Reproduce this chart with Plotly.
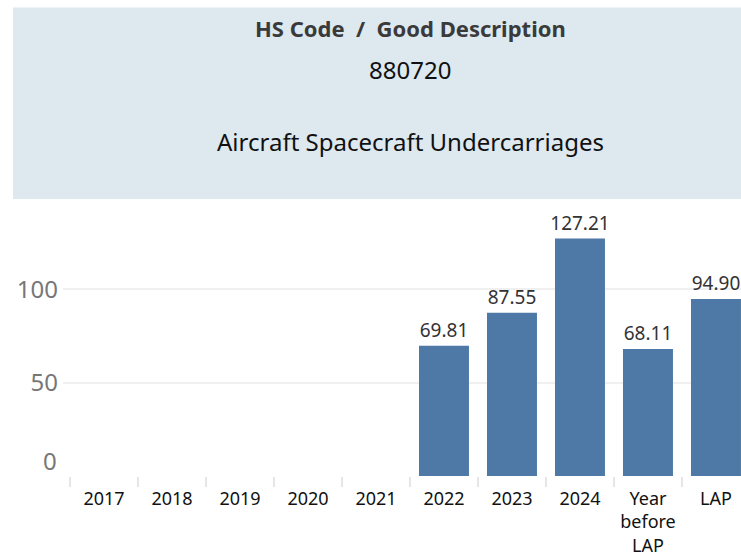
import plotly.graph_objects as go

categories = ["2017", "2018", "2019", "2020", "2021", "2022", "2023", "2024", "Year before LAP", "LAP"]
tick_labels = ["2017", "2018", "2019", "2020", "2021", "2022", "2023", "2024", "Year<br>before<br>LAP", "LAP"]
values = [None, None, None, None, None, 69.81, 87.55, 127.21, 68.11, 94.90]
y_ticks = [0, 50, 100]
y_tick_labels = ["", "50", "100"]   # the "0" label is drawn slightly above its line, as in the source
zero_label = "0"

header_title = "HS Code\u00a0 /\u00a0 Good Description"
hs_code = "880720"
good_description = "Aircraft Spacecraft Undercarriages"

BAR = "#4e79a7"
FONT = "Noto Sans"

fig = go.Figure()
fig.add_trace(go.Bar(
    x=categories, y=values,
    marker=dict(color=BAR, line=dict(width=0)),
    texttemplate="%{y:.2f}", textposition="outside", constraintext="none",
    textfont=dict(family=FONT, size=19, color="#333333"),
    cliponaxis=False, hoverinfo="skip",
))

fig.update_layout(
    width=741, height=557,
    margin=dict(l=63, r=0, t=210, b=79),
    paper_bgcolor="white", plot_bgcolor="white",
    bargap=0.265, showlegend=False,
    xaxis=dict(
        type="category", range=[-0.603, 9.368],
        tickvals=categories, ticktext=tick_labels,
        tickson="boundaries", ticks="outside", ticklen=10,
        tickcolor="#e6e6e6", tickwidth=2, ticklabelstandoff=10,
        showgrid=False, zeroline=False, showline=False,
        tickfont=dict(family=FONT, size=18, color="#111111"),
    ),
    yaxis=dict(
        range=[0, 142.55], tickvals=y_ticks, ticktext=y_tick_labels,
        showgrid=True, gridcolor="#f0f0f0", gridwidth=2,
        zeroline=True, zerolinecolor="white", zerolinewidth=3,
        showline=False, ticks="", ticklabelstandoff=4,
        tickfont=dict(family=FONT, size=24, color="#777777"),
    ),
    shapes=[
        dict(type="rect", xref="paper", yref="paper",
             x0=-0.0737, x1=1.0, y0=1.041, y1=1.761,
             fillcolor="#dde8ef", line=dict(width=0), layer="below"),
        dict(type="line", xref="paper", yref="y",
             x0=0, x1=1, y0=0, y1=0,
             line=dict(color="#cccccc", width=1.2, dash="dash"), layer="below"),
    ],
    annotations=[
        dict(text="<b>" + header_title + "</b>", xref="paper", yref="paper",
             x=0.512, y=1.684, xanchor="center", yanchor="middle", showarrow=False,
             font=dict(family=FONT, size=22, color="#3a3a3a")),
        dict(text=hs_code, xref="paper", yref="paper",
             x=0.512, y=1.529, xanchor="center", yanchor="middle", showarrow=False,
             font=dict(family=FONT, size=24, color="#111111")),
        dict(text=good_description, xref="paper", yref="paper",
             x=0.512, y=1.257, xanchor="center", yanchor="middle", showarrow=False,
             font=dict(family=FONT, size=24, color="#111111")),
        dict(text=zero_label, xref="paper", yref="y",
             x=0, y=y_ticks[0], xanchor="right", yanchor="middle", showarrow=False,
             xshift=-4, yshift=16,
             font=dict(family=FONT, size=24, color="#777777")),
    ],
)

fig.write_html("out.html", config={"displayModeBar": False},
               post_script="document.body.style.margin='0';")
